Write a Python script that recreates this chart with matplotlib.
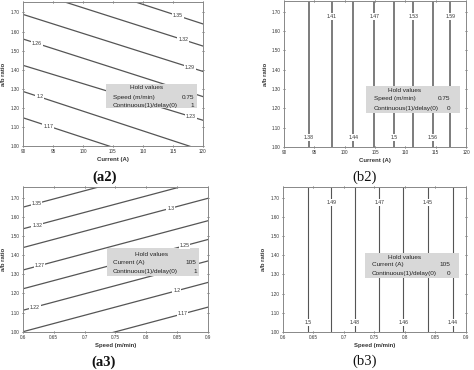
import matplotlib
matplotlib.use('Agg')
import matplotlib.pyplot as plt
import numpy as np
from matplotlib.patches import Rectangle

plt.rcParams['font.family'] = ['Liberation Sans', 'DejaVu Sans']

# (a2) contour of a/b ratio over current, speed held
a2_levels = ['1.17', '1.2', '1.23', '1.26', '1.29', '1.32', '1.35']
a2_y_at_90 = [1.148, 1.286, 1.423, 1.561, 1.690, 1.825, 1.947]
a2_y_at_120 = [0.838, 0.976, 1.135, 1.259, 1.391, 1.524, 1.640]
a2_label_x = [94.2, 92.8, 118.0, 92.3, 117.8, 116.7, 115.8]

# (a3) contour of a/b ratio over speed, current held
a3_levels = ['1.17', '1.2', '1.22', '1.25', '1.27', '1.3', '1.32', '1.35']
a3_y_at_06 = [0.871, 1.000, 1.112, 1.224, 1.322, 1.439, 1.537, 1.650]
a3_y_at_09 = [1.128, 1.257, 1.369, 1.481, 1.579, 1.696, 1.794, 1.907]
a3_label_x = [0.859, 0.8496, 0.619, 0.862, 0.627, 0.840, 0.623, 0.6217]

# (b2) delay mode, vertical contours over current
b2_levels = ['1.38', '1.41', '1.44', '1.47', '1.5', '1.53', '1.56', '1.59']
b2_current = [94.14, 97.9, 101.43, 104.86, 108.13, 111.29, 114.5, 117.39]
b2_label_top = [False, True, False, True, False, True, False, True]

# (b3) delay mode, vertical contours over speed
b3_levels = ['1.5', '1.49', '1.48', '1.47', '1.46', '1.45', '1.44']
b3_speed = [0.6408, 0.679, 0.7176, 0.7579, 0.7976, 0.8374, 0.8782]
b3_label_top = [False, True, False, True, False, True, False]

current_ticks = [90, 95, 100, 105, 110, 115, 120]
speed_ticks = [0.6, 0.65, 0.7, 0.75, 0.8, 0.85, 0.9]
speed_ticklabels = ['0.6', '0.65', '0.7', '0.75', '0.8', '0.85', '0.9']
ratio_ticks = [1.0, 1.1, 1.2, 1.3, 1.4, 1.5, 1.6, 1.7]
ratio_ticklabels = ['1.00', '1.10', '1.20', '1.30', '1.40', '1.50', '1.60', '1.70']

LINE_C = '#555555'
TXT_C = '#333333'


def style_axes(ax, xticks, xlabels, xlabel):
    ax.set_ylim(1.0, 1.755)
    ax.set_xlim(xticks[0], xticks[-1])
    ax.set_xticks(xticks)
    ax.set_xticklabels(xlabels)
    ax.set_yticks(ratio_ticks)
    ax.set_yticklabels(ratio_ticklabels)
    ax.tick_params(labelsize=3.3, colors=TXT_C, length=2, width=0.5,
                   direction='inout', top=True, right=True, pad=1.5)
    for s in ax.spines.values():
        s.set_color('#888888')
        s.set_linewidth(0.7)
    ax.set_xlabel(xlabel, fontsize=4.3, color=TXT_C, fontweight='bold', labelpad=2)
    ax.set_ylabel('a/b ratio', fontsize=4.3, color=TXT_C, fontweight='bold', labelpad=3)


def hold_box(ax, box, rows, title_xy, row_y, left_x, right_x):
    x0, y0, x1, y1 = box
    ax.add_patch(Rectangle((x0, y0), x1 - x0, y1 - y0, transform=ax.transAxes,
                           facecolor='#d8d8d8', edgecolor='none', zorder=5))
    ax.text(title_xy[0], title_xy[1], 'Hold values', transform=ax.transAxes,
            ha='center', va='center', fontsize=4.6, color='#222222', zorder=6)
    for (name, val), yy in zip(rows, row_y):
        ax.text(left_x, yy, name, transform=ax.transAxes, ha='left', va='center',
                fontsize=4.6, color='#222222', zorder=6)
        ax.text(right_x, yy, val, transform=ax.transAxes, ha='right', va='center',
                fontsize=4.6, color='#222222', zorder=6)


def inline_label(ax, x, y, s):
    ax.text(x, y, s, ha='center', va='center', fontsize=3.7, color=TXT_C, zorder=7,
            bbox=dict(facecolor='white', edgecolor='none', pad=0.6))


fig = plt.figure(figsize=(4.74, 3.70), dpi=100)

# ---- (a2)
ax = fig.add_axes([0.0485, 0.6054, 0.3797, 0.3892])
for lev, y0, y1, lx in zip(a2_levels, a2_y_at_90, a2_y_at_120, a2_label_x):
    ax.plot([90, 120], [y0, y1], color=LINE_C, lw=0.9, zorder=2)
    inline_label(ax, lx, np.interp(lx, [90, 120], [y0, y1]), lev)
style_axes(ax, current_ticks, [str(t) for t in current_ticks], 'Current (A)')
hold_box(ax, (0.461, 0.264, 0.967, 0.431),
         [('Speed (m/min)', '0.75'), ('Continuous(1)/delay(0)', '1')],
         (0.689, 0.403), [0.340, 0.278], 0.50, 0.95)

# ---- (b2)
ax = fig.add_axes([0.5992, 0.6027, 0.384, 0.3946])
for lev, xc, top in zip(b2_levels, b2_current, b2_label_top):
    ax.axvline(xc, color='#666666', lw=1.2, zorder=2)
    inline_label(ax, xc, 1.675 if top else 1.05, lev)
style_axes(ax, current_ticks, [str(t) for t in current_ticks], 'Current (A)')
hold_box(ax, (0.451, 0.233, 0.967, 0.418),
         [('Speed (m/min)', '0.75'), ('Continuous(1)/delay(0)', '0')],
         (0.665, 0.390), [0.329, 0.267], 0.495, 0.912)

# ---- (a3)
ax = fig.add_axes([0.0485, 0.1035, 0.390, 0.391])
for lev, y0, y1, lx in zip(a3_levels, a3_y_at_06, a3_y_at_09, a3_label_x):
    ax.plot([0.6, 0.9], [y0, y1], color=LINE_C, lw=0.9, zorder=2)
    inline_label(ax, lx, np.interp(lx, [0.6, 0.9], [y0, y1]), lev)
style_axes(ax, speed_ticks, speed_ticklabels, 'Speed (m/min)')
hold_box(ax, (0.454, 0.385, 0.951, 0.578),
         [('Current (A)', '105'), ('Continuous(1)/delay(0)', '1')],
         (0.697, 0.537), [0.475, 0.413], 0.486, 0.94)

# ---- (b3)
ax = fig.add_axes([0.597, 0.1027, 0.386, 0.392])
for lev, xs, top in zip(b3_levels, b3_speed, b3_label_top):
    ax.axvline(xs, color='#555555', lw=0.8, zorder=2)
    inline_label(ax, xs, 1.675 if top else 1.05, lev)
style_axes(ax, speed_ticks, speed_ticklabels, 'Speed (m/min)')
hold_box(ax, (0.448, 0.372, 0.962, 0.545),
         [('Current (A)', '105'), ('Continuous(1)/delay(0)', '0')],
         (0.667, 0.517), [0.462, 0.400], 0.486, 0.913)

# panel captions
fig.text(105 / 474, 1 - 177 / 370, '(a2)', ha='center', va='center',
         fontsize=10.5, family='Liberation Serif', fontweight='bold', color='#111111')
fig.text(365 / 474, 1 - 177 / 370, '(b2)', ha='center', va='center',
         fontsize=10.5, family='Liberation Serif', color='#111111')
fig.text(104 / 474, 1 - 362 / 370, '(a3)', ha='center', va='center',
         fontsize=10.5, family='Liberation Serif', fontweight='bold', color='#111111')
fig.text(365 / 474, 1 - 361 / 370, '(b3)', ha='center', va='center',
         fontsize=10.5, family='Liberation Serif', color='#111111')

fig.savefig('out.png', dpi=100)
